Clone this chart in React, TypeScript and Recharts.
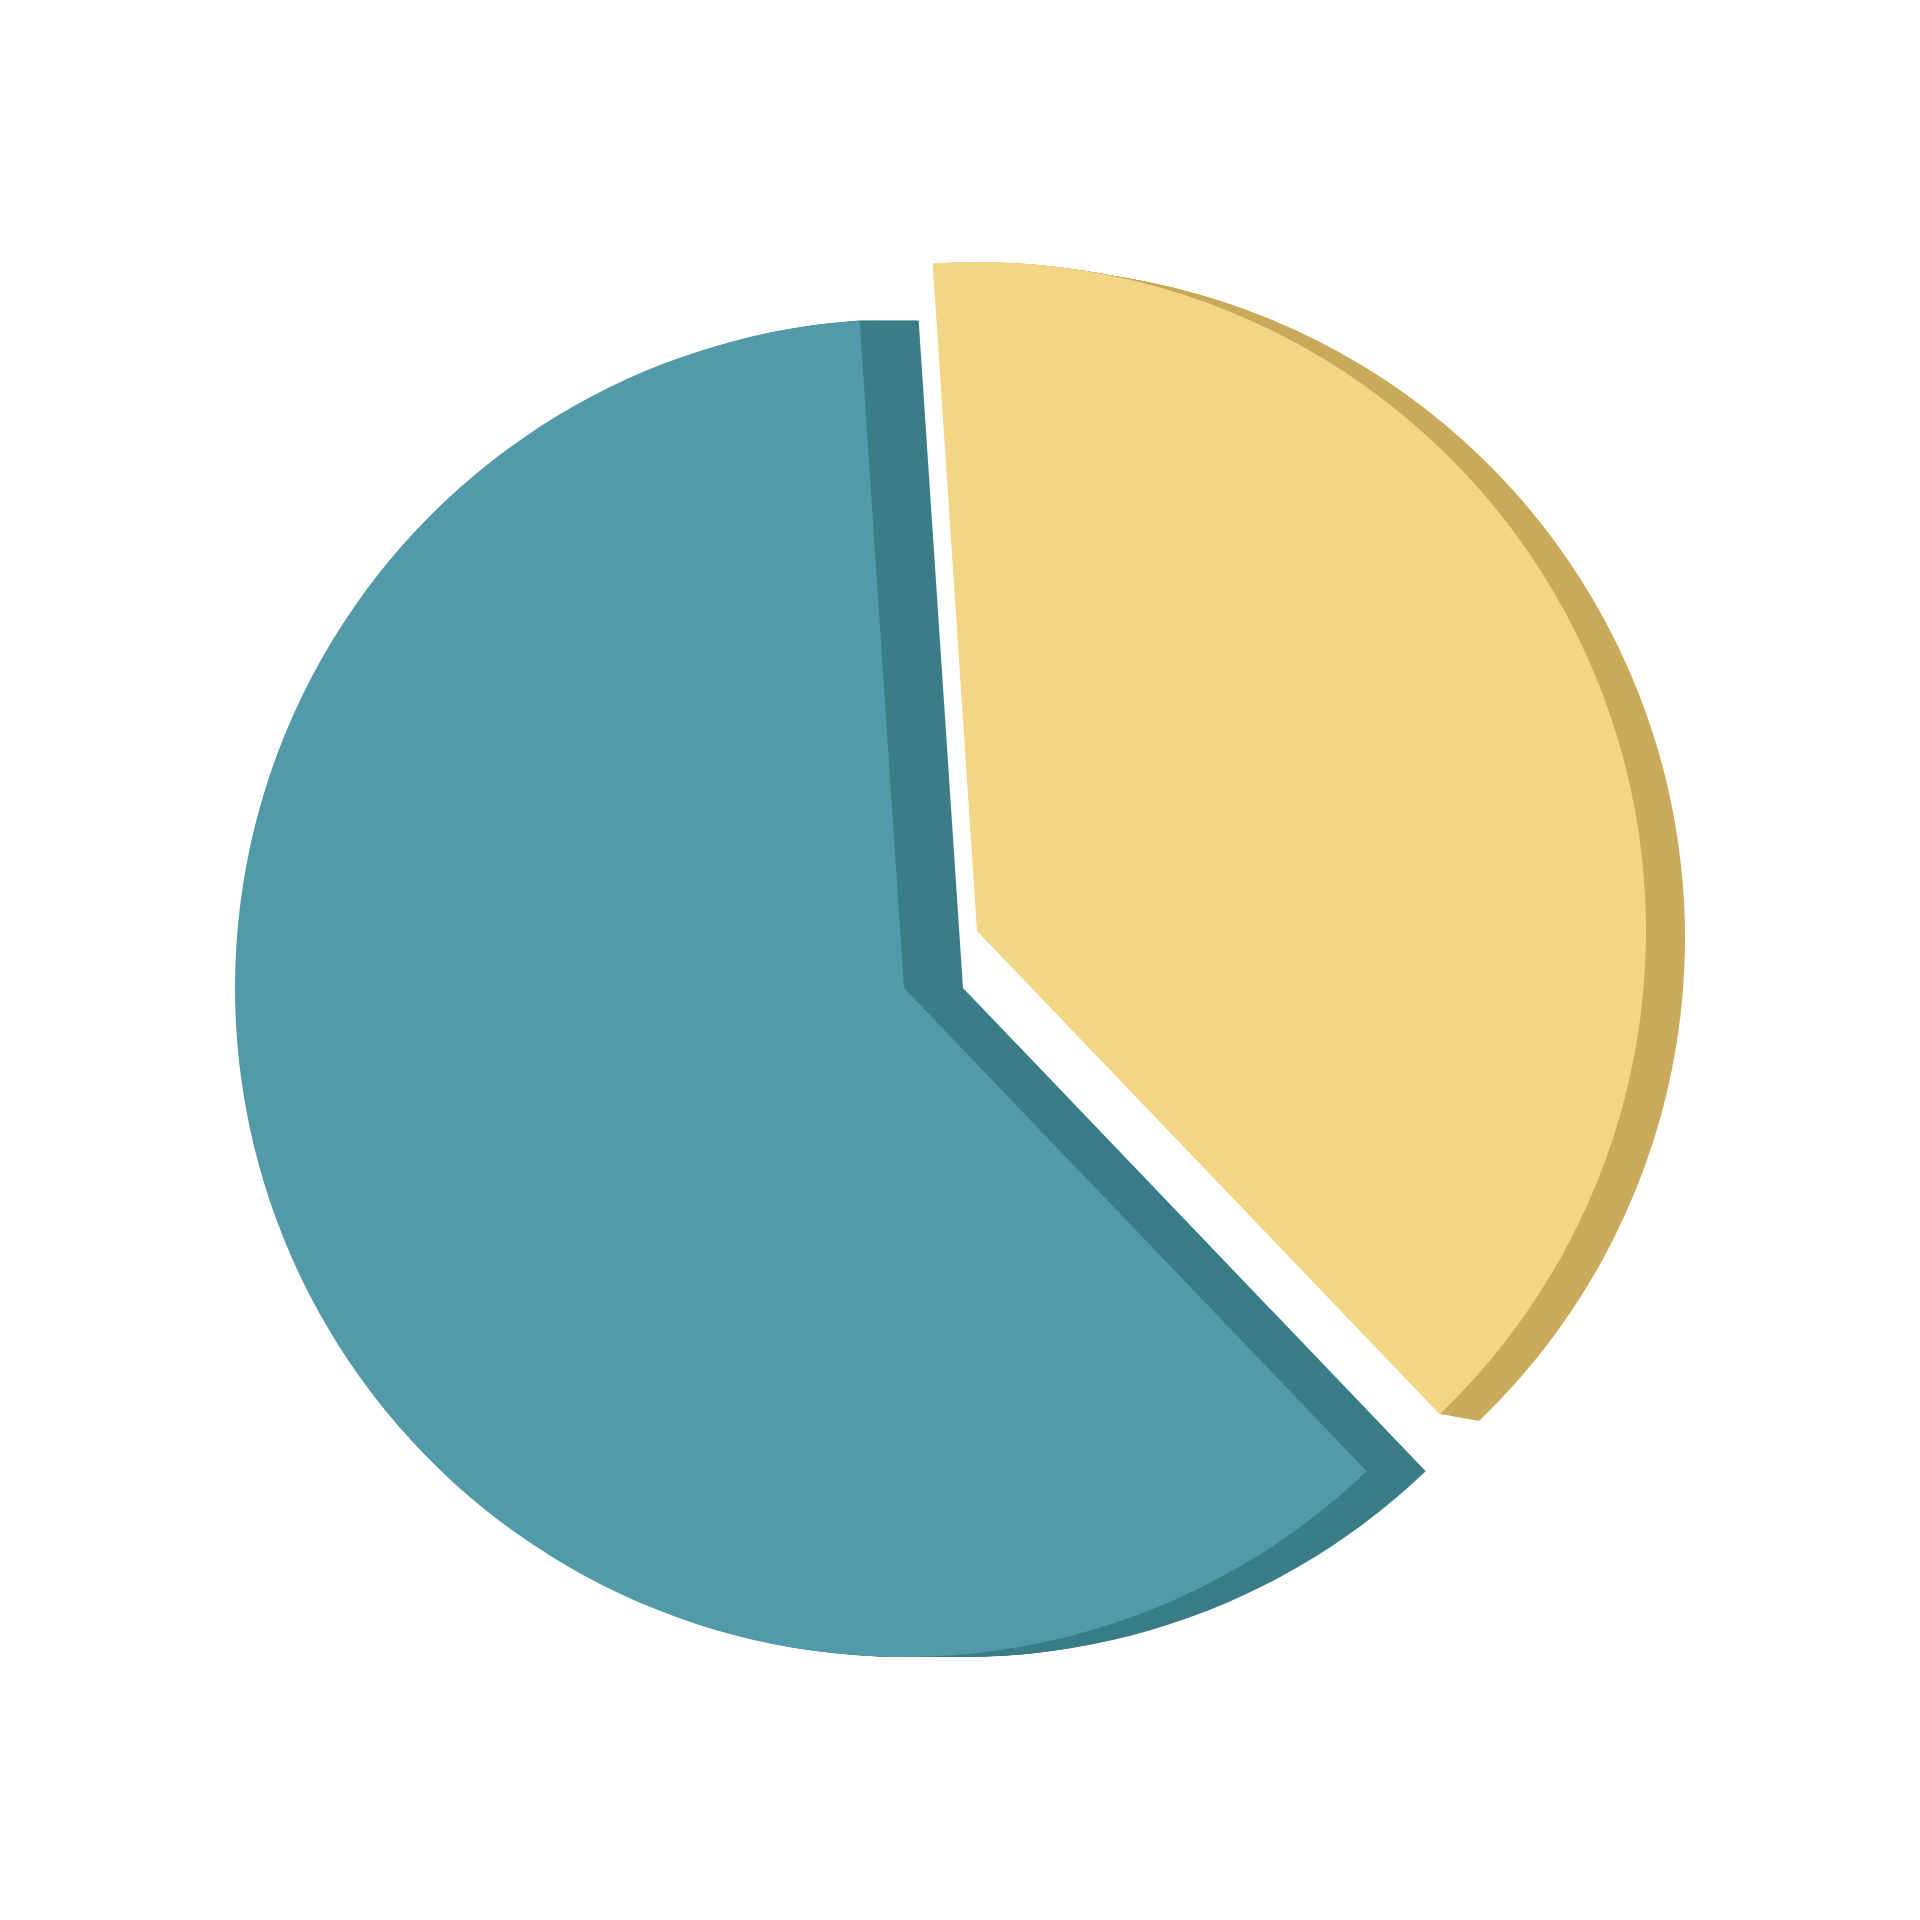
import { Cell, Pie, PieChart } from 'recharts';

const categories = ['Segment A', 'Segment B'];
const values = [61.1, 38.9];
const faceColors = ['#5299A9', '#F3D685'];
const sideColors = ['#3A7D87', '#CAAA5C'];

const data = categories.map((name, i) => ({ name, value: values[i] }));

const START = 93.8;
const RADIUS = 669;

// face position of each slice and how far its extruded side reaches
const slices = [
  { cx: 896, cy: 980, dx: 59, dy: 0 },
  { cx: 969, cy: 923, dx: 39, dy: 7 },
];
const STEPS = 30;

// the side is swept: copies of the slice from the far offset back to the face
const layers = slices.flatMap((s, slice) => [
  ...Array.from({ length: STEPS }, (_, k) => {
    const t = (STEPS - k) / STEPS;
    return { slice, cx: s.cx + s.dx * t, cy: s.cy + s.dy * t, colors: sideColors };
  }),
  { slice, cx: s.cx, cy: s.cy, colors: faceColors },
]);

export default function App() {
  return (
    <div style={{ width: 1920, height: 1920, background: '#FFFFFF' }}>
      <PieChart width={1920} height={1920} margin={{ top: 0, right: 0, bottom: 0, left: 0 }}>
        {layers.map((layer, li) => (
          <Pie
            key={li}
            data={data}
            dataKey="value"
            nameKey="name"
            cx={layer.cx}
            cy={layer.cy}
            innerRadius={0}
            outerRadius={RADIUS}
            startAngle={START}
            endAngle={START + 360}
            stroke="none"
            label={false}
            labelLine={false}
            isAnimationActive={false}
          >
            {data.map((entry, i) => (
              <Cell
                key={entry.name}
                fill={i === layer.slice ? layer.colors[i] : 'transparent'}
                stroke="none"
              />
            ))}
          </Pie>
        ))}
      </PieChart>
    </div>
  );
}
